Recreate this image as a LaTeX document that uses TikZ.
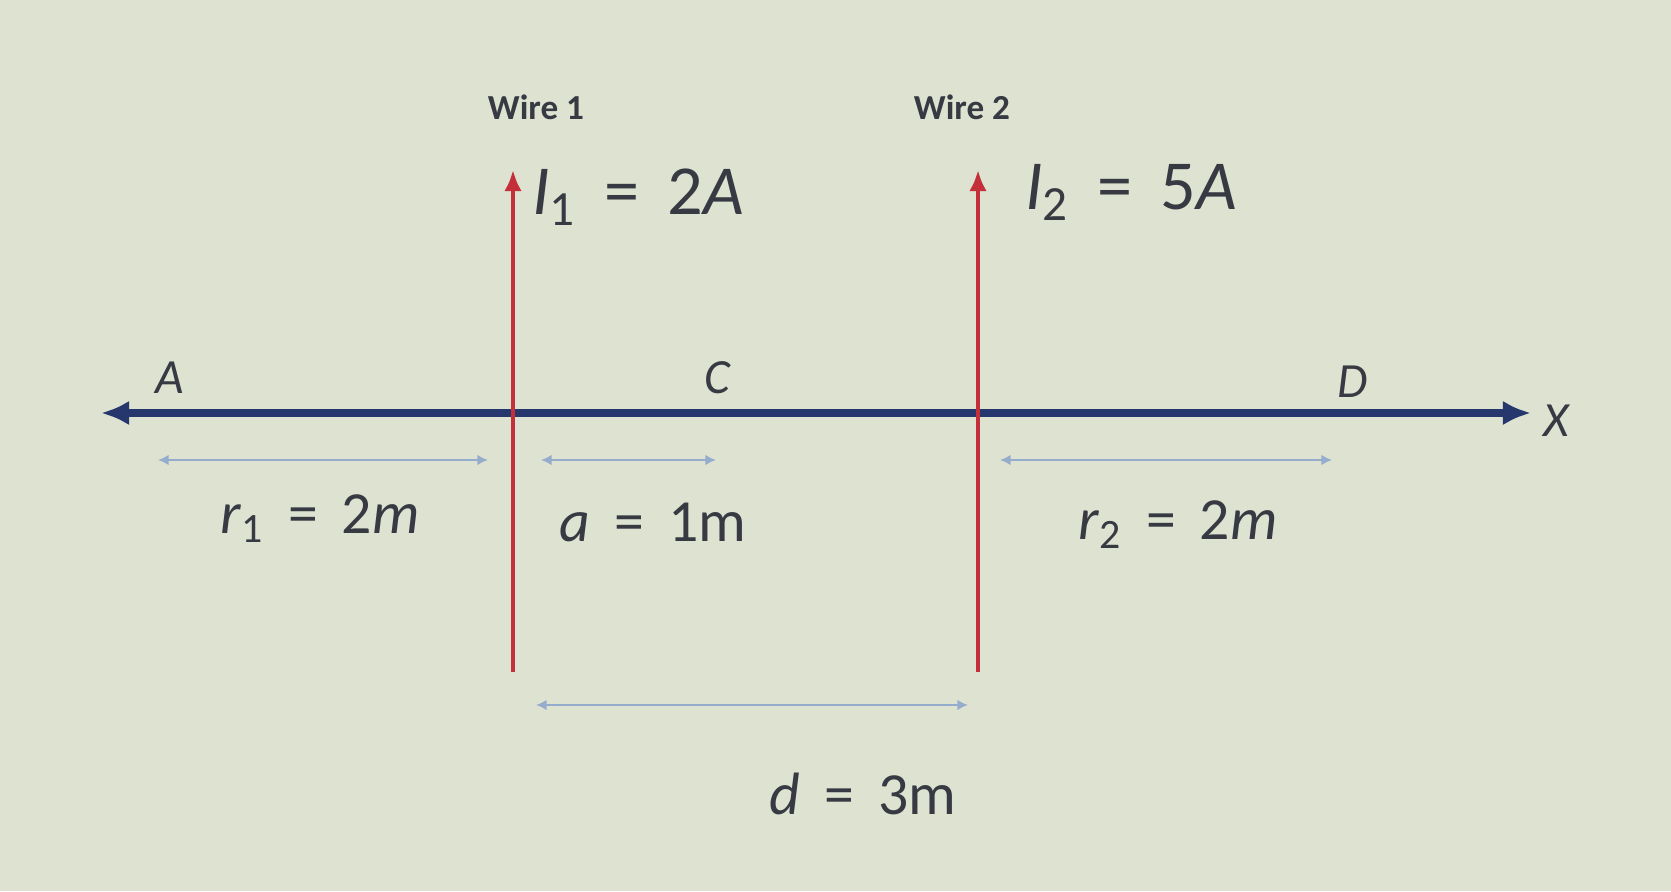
\documentclass[tikz,border=0pt]{standalone}
\usepackage{fontspec}
\setmainfont{Carlito}
\usepackage{tikz}
\usetikzlibrary{arrows.meta}
\definecolor{screen}{RGB}{221,226,209}
\definecolor{axisblue}{RGB}{38,55,110}
\definecolor{wirered}{RGB}{196,48,58}
\definecolor{dimblue}{RGB}{150,172,205}
\definecolor{ink}{RGB}{55,58,66}
\newcommand{\eqsp}{\hspace{0.4em}=\hspace{0.4em}}
\tikzset{axis/.style={draw=axisblue,line width=2pt,{Latex[length=8pt,width=7pt]}-{Latex[length=8pt,width=7pt]}},
 wire/.style={draw=wirered,line width=1.3pt,-{Latex[length=6pt,width=5pt]}},
 dimline/.style={draw=dimblue,line width=0.6pt,{Latex[length=3pt,width=3pt]}-{Latex[length=3pt,width=3pt]}},
 lbl/.style={inner sep=1pt,text=ink,font=\fontsize{17}{20}\selectfont},
 cur/.style={inner sep=1pt,anchor=west,text=ink,font=\fontsize{20}{24}\selectfont},
 pt/.style={inner sep=1pt,text=ink,font=\fontsize{14}{16}\selectfont\itshape},
 }

\begin{document}
\begin{tikzpicture}
        \fill[screen] (0,0) rectangle (16.71,8.91);
        \useasboundingbox (0,0) rectangle (16.71,8.91);
        % x axis
        \coordinate (left) at (1.01,4.78);
        \coordinate (right) at (15.31,4.78);
        \draw[axis] (left) -- (right);
        \node[pt] (x) at (15.56,4.70) {X};
        % wires
        \coordinate (w1b) at (5.13,2.19);
        \coordinate (w1t) at (5.13,7.21);
        \coordinate (w2b) at (9.78,2.19);
        \coordinate (w2t) at (9.78,7.21);
        \draw[wire] (w1b) -- (w1t);
        \draw[wire] (w2b) -- (w2t);
        \node[text=ink,font=\fontsize{10}{12}\selectfont\bfseries] (wire1) at (5.36,7.84) {Wire 1};
        \node[text=ink,font=\fontsize{10}{12}\selectfont\bfseries] (wire2) at (9.62,7.84) {Wire 2};
        \node[cur] (i1) at (5.28,6.94) {\textit{I}\textsubscript{1}\eqsp 2\textit{A}};
        \node[cur] (i2) at (10.21,6.99) {\textit{I}\textsubscript{2}\eqsp 5\textit{A}};
        % points
        \node[pt] (a) at (1.70,5.13) {A};
        \node[pt] (c) at (7.17,5.13) {C};
        \node[pt] (d) at (13.53,5.09) {D};
        % distances
        \coordinate (r1l) at (1.58,4.31);
        \coordinate (r1r) at (4.88,4.31);
        \coordinate (al) at (5.41,4.31);
        \coordinate (ar) at (7.16,4.31);
        \coordinate (r2l) at (10.00,4.31);
        \coordinate (r2r) at (13.32,4.31);
        \coordinate (dl) at (5.36,1.86);
        \coordinate (dr) at (9.68,1.86);
        \draw[dimline] (r1l) -- (r1r);
        \draw[dimline] (al) -- (ar);
        \draw[dimline] (r2l) -- (r2r);
        \draw[dimline] (dl) -- (dr);
        \node[lbl] (r1) at (3.20,3.72) {\textit{r}\textsubscript{1}\eqsp 2\textit{m}};
        \node[lbl] (dista) at (6.53,3.69) {\textit{a}\eqsp 1m};
        \node[lbl] (r2) at (11.78,3.66) {\textit{r}\textsubscript{2}\eqsp 2\textit{m}};
        \node[lbl] (distd) at (8.63,0.97) {\textit{d}\eqsp 3m};
\end{tikzpicture}
\end{document}
